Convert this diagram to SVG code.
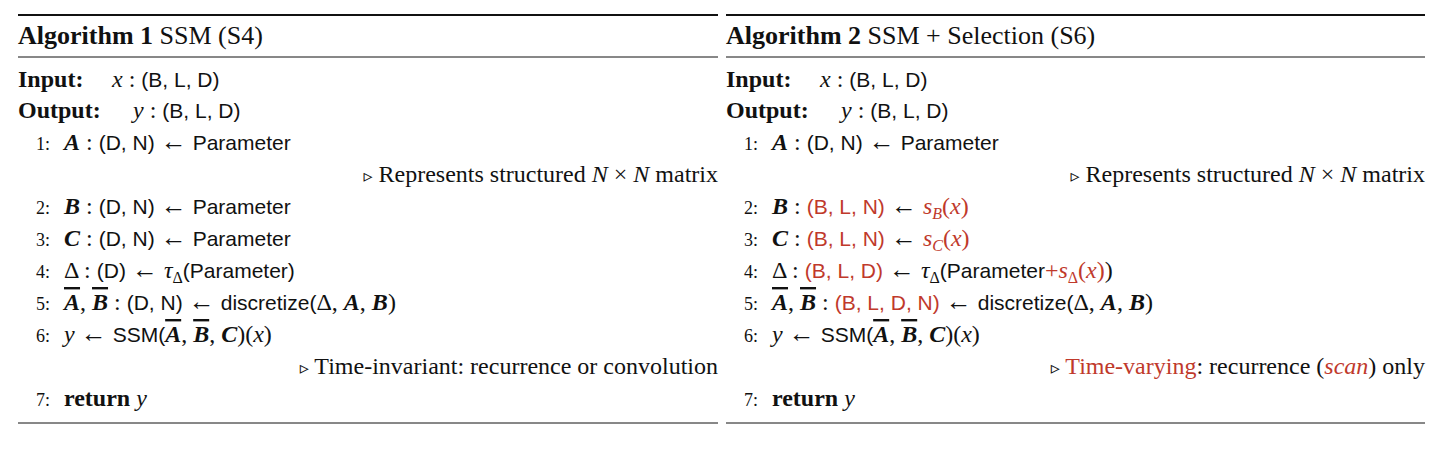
<svg xmlns="http://www.w3.org/2000/svg" width="1441" height="451" viewBox="0 0 1441 451" xml:space="preserve">
<style>
text{font-family:"Liberation Serif","DejaVu Serif",serif;font-size:24px;fill:#111}
.t{font-size:26px}
.b{font-weight:bold}
.i{font-style:italic}
.bi{font-weight:bold;font-style:italic}
.s{font-family:"Liberation Sans","DejaVu Sans",sans-serif;font-size:21px}
.ar{font-family:"Liberation Serif",serif;font-size:26px}
.n{font-size:18px}
.r{fill:#c0392b}
.ov{text-decoration:overline}
.sub{font-size:16px}
.rt{text-anchor:end}
line{stroke:#111}
</style>
<rect width="1441" height="451" fill="#fff"/>
<g id="rules">
<line x1="18" y1="15" x2="718" y2="15" stroke-width="2"/>
<line x1="18" y1="57" x2="718" y2="57" stroke-width="1"/>
<line x1="18" y1="423" x2="718" y2="423" stroke-width="1"/>
<line x1="726" y1="15" x2="1425" y2="15" stroke-width="2"/>
<line x1="726" y1="57" x2="1425" y2="57" stroke-width="1"/>
<line x1="726" y1="423" x2="1425" y2="423" stroke-width="1"/>
</g>
<g id="alg1">
<text x="18" y="44" class="t"><tspan class="b">Algorithm 1</tspan> SSM (S4)</text>
<text x="18" y="87"><tspan class="b">Input:</tspan><tspan x="112" class="i">x</tspan> : <tspan class="s">(B, L, D)</tspan></text>
<text x="18" y="118"><tspan class="b">Output:</tspan><tspan x="133" class="i">y</tspan> : <tspan class="s">(B, L, D)</tspan></text>
<text x="36" y="150"><tspan class="n">1:</tspan><tspan x="64" class="bi">A</tspan> : <tspan class="s">(D, N)</tspan> <tspan class="ar">←</tspan> <tspan class="s">Parameter</tspan></text>
<text x="718" y="182" class="rt"><tspan class="n">▹</tspan> Represents structured <tspan class="i">N</tspan> × <tspan class="i">N</tspan> matrix</text>
<text x="36" y="214"><tspan class="n">2:</tspan><tspan x="64" class="bi">B</tspan> : <tspan class="s">(D, N)</tspan> <tspan class="ar">←</tspan> <tspan class="s">Parameter</tspan></text>
<text x="36" y="246"><tspan class="n">3:</tspan><tspan x="64" class="bi">C</tspan> : <tspan class="s">(D, N)</tspan> <tspan class="ar">←</tspan> <tspan class="s">Parameter</tspan></text>
<text x="36" y="278"><tspan class="n">4:</tspan><tspan x="64">Δ</tspan> : <tspan class="s">(D)</tspan> <tspan class="ar">←</tspan> <tspan class="i">τ</tspan><tspan class="sub" dy="5">Δ</tspan><tspan class="s" dy="-5">(Parameter)</tspan></text>
<text x="36" y="310"><tspan class="n">5:</tspan><tspan x="64" class="bi ov">A</tspan>, <tspan class="bi ov">B</tspan> : <tspan class="s">(D, N)</tspan> <tspan class="ar">←</tspan> <tspan class="s">discretize(</tspan>Δ, <tspan class="bi">A</tspan>, <tspan class="bi">B</tspan>)</text>
<text x="36" y="342"><tspan class="n">6:</tspan><tspan x="64" class="i">y</tspan> <tspan class="ar">←</tspan> <tspan class="s">SSM(</tspan><tspan class="bi ov">A</tspan>, <tspan class="bi ov">B</tspan>, <tspan class="bi">C</tspan>)(<tspan class="i">x</tspan>)</text>
<text x="718" y="374" class="rt"><tspan class="n">▹</tspan> Time-invariant: recurrence or convolution</text>
<text x="36" y="406"><tspan class="n">7:</tspan><tspan x="64" class="b">return</tspan> <tspan class="i">y</tspan></text>
</g>
<g id="alg2">
<text x="726" y="44" class="t"><tspan class="b">Algorithm 2</tspan> SSM + Selection (S6)</text>
<text x="726" y="87"><tspan class="b">Input:</tspan><tspan x="820" class="i">x</tspan> : <tspan class="s">(B, L, D)</tspan></text>
<text x="726" y="118"><tspan class="b">Output:</tspan><tspan x="841" class="i">y</tspan> : <tspan class="s">(B, L, D)</tspan></text>
<text x="744" y="150"><tspan class="n">1:</tspan><tspan x="772" class="bi">A</tspan> : <tspan class="s">(D, N)</tspan> <tspan class="ar">←</tspan> <tspan class="s">Parameter</tspan></text>
<text x="1425" y="182" class="rt"><tspan class="n">▹</tspan> Represents structured <tspan class="i">N</tspan> × <tspan class="i">N</tspan> matrix</text>
<text x="744" y="214"><tspan class="n">2:</tspan><tspan x="772" class="bi">B</tspan> : <tspan class="s r">(B, L, N)</tspan> <tspan class="ar">←</tspan> <tspan class="i r">s</tspan><tspan class="i r sub" dy="5">B</tspan><tspan class="r" dy="-5">(</tspan><tspan class="i r">x</tspan><tspan class="r">)</tspan></text>
<text x="744" y="246"><tspan class="n">3:</tspan><tspan x="772" class="bi">C</tspan> : <tspan class="s r">(B, L, N)</tspan> <tspan class="ar">←</tspan> <tspan class="i r">s</tspan><tspan class="i r sub" dy="5">C</tspan><tspan class="r" dy="-5">(</tspan><tspan class="i r">x</tspan><tspan class="r">)</tspan></text>
<text x="744" y="278"><tspan class="n">4:</tspan><tspan x="772">Δ</tspan> : <tspan class="s r">(B, L, D)</tspan> <tspan class="ar">←</tspan> <tspan class="i">τ</tspan><tspan class="sub" dy="5">Δ</tspan><tspan class="s" dy="-5">(Parameter</tspan><tspan class="r">+</tspan><tspan class="i r">s</tspan><tspan class="r sub" dy="5">Δ</tspan><tspan class="r" dy="-5">(</tspan><tspan class="i r">x</tspan><tspan class="r">)</tspan>)</text>
<text x="744" y="310"><tspan class="n">5:</tspan><tspan x="772" class="bi ov">A</tspan>, <tspan class="bi ov">B</tspan> : <tspan class="s r">(B, L, D, N)</tspan> <tspan class="ar">←</tspan> <tspan class="s">discretize(</tspan>Δ, <tspan class="bi">A</tspan>, <tspan class="bi">B</tspan>)</text>
<text x="744" y="342"><tspan class="n">6:</tspan><tspan x="772" class="i">y</tspan> <tspan class="ar">←</tspan> <tspan class="s">SSM(</tspan><tspan class="bi ov">A</tspan>, <tspan class="bi ov">B</tspan>, <tspan class="bi">C</tspan>)(<tspan class="i">x</tspan>)</text>
<text x="1425" y="374" class="rt"><tspan class="n">▹</tspan> <tspan class="r">Time-varying</tspan>: recurrence (<tspan class="i r">scan</tspan>) only</text>
<text x="744" y="406"><tspan class="n">7:</tspan><tspan x="772" class="b">return</tspan> <tspan class="i">y</tspan></text>
</g>
</svg>
